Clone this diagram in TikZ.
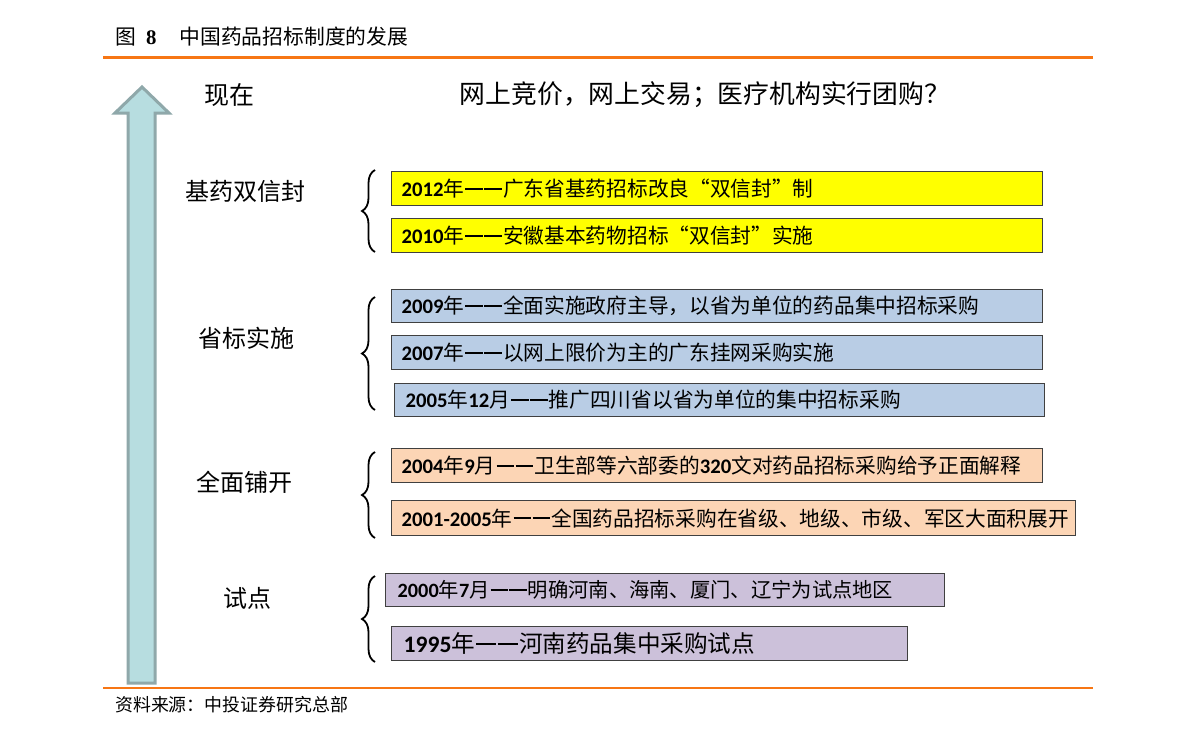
\documentclass[tikz,border=0pt]{standalone}
\usepackage{fontspec}
\setmainfont{Carlito}
\newfontfamily\cjk{Noto Sans CJK SC}
\newfontfamily\lat{Carlito}
\newfontfamily\serifx{Liberation Serif}
\usetikzlibrary{decorations.pathreplacing}
\definecolor{orangeline}{RGB}{247,118,20}
\definecolor{arrowfill}{RGB}{183,221,224}
\definecolor{arrowline}{RGB}{143,168,170}
\definecolor{yel}{RGB}{255,255,0}
\definecolor{blu}{RGB}{185,205,229}
\definecolor{ora}{RGB}{252,213,181}
\definecolor{pur}{RGB}{204,193,218}
\definecolor{boxline}{RGB}{64,64,64}
\newcommand{\bn}[1]{{\lat\bfseries #1}}
\newcommand{\dd}{\hspace{1pt}\rule[0.33em]{0.86em}{0.1em}\hspace{0.06em}\rule[0.33em]{0.86em}{0.1em}\hspace{1pt}}
\tikzset{
  evt/.style={draw=boxline, line width=1.3pt, anchor=north west, inner xsep=10pt, inner ysep=0pt,
     align=left, font=\cjk\fontsize{20.7}{24}\selectfont},
  lab/.style={font=\cjk\fontsize{24}{28}\selectfont, inner sep=0pt},
  bracestyle/.style={draw=black, line width=1.8pt, decorate, decoration={brace, amplitude=13pt}},
  rule/.style={draw=orangeline},
}
\begin{document}
\begin{tikzpicture}[x=1pt,y=-1pt]
\useasboundingbox (0,0) rectangle (1191,736);
\fill[white] (0,0) rectangle (1191,736);
% title
\node[anchor=west, inner sep=0pt, font=\cjk\fontsize{20.8}{24}\selectfont] (title) at (115,37)
  {图\hspace{10pt}{\serifx\bfseries 8}\hspace{23pt}中国药品招标制度的发展};
\coordinate (r1a) at (103,57); \coordinate (r1b) at (1093,57);
\draw[rule, line width=3pt] (r1a) -- (r1b);
\coordinate (r2a) at (103,688); \coordinate (r2b) at (1093,688);
\draw[rule, line width=2.5pt] (r2a) -- (r2b);
\node[anchor=west, inner sep=0pt, font=\cjk\fontsize{17.9}{20}\selectfont] (src) at (115,705) {资料来源：中投证券研究总部};
% big arrow
\draw[draw=arrowline, fill=arrowfill, line width=3pt, line join=miter]
  (128,683) -- (128,113) -- (115,113) -- (142,87) -- (169,113) -- (155,113) -- (155,683) -- cycle;
% labels
\node[lab, font=\cjk\fontsize{25}{28}\selectfont] (now) at (229,95) {现在};
\node[lab, font=\cjk\fontsize{25.8}{28}\selectfont] (future) at (705,95) {网上竞价，网上交易；医疗机构实行团购？};
\node[lab] (l1) at (245,191) {基药双信封};
\node[lab] (l2) at (246,338) {省标实施};
\node[lab] (l3) at (244,482) {全面铺开};
\node[lab] (l4) at (247,598) {试点};
% braces
\coordinate (b1t) at (375,170); \coordinate (b1b) at (375,252);
\coordinate (b2t) at (375,297); \coordinate (b2b) at (375,410);
\coordinate (b3t) at (375,452); \coordinate (b3b) at (375,538);
\coordinate (b4t) at (375,576); \coordinate (b4b) at (375,662);
\draw[bracestyle] (b1b) -- (b1t);
\draw[bracestyle] (b2b) -- (b2t);
\draw[bracestyle] (b3b) -- (b3t);
\draw[bracestyle] (b4b) -- (b4t);
% boxes
\node[evt, fill=yel, minimum height=34pt, text width=631pt] (y1) at (391,171)
  {\bn{2012}年\dd 广东省基药招标改良“双信封”制};
\node[evt, fill=yel, minimum height=34pt, text width=631pt] (y2) at (391,218)
  {\bn{2010}年\dd 安徽基本药物招标“双信封”实施};
\node[evt, fill=blu, minimum height=33pt, text width=631pt] (bl1) at (391,289)
  {\bn{2009}年\dd 全面实施政府主导，以省为单位的药品集中招标采购};
\node[evt, fill=blu, minimum height=34pt, text width=631pt] (bl2) at (391,335)
  {\bn{2007}年\dd 以网上限价为主的广东挂网采购实施};
\node[evt, fill=blu, minimum height=33pt, text width=628pt, inner xsep=11pt] (bl3) at (394,383)
  {\bn{2005}年\bn{12}月\dd 推广四川省以省为单位的集中招标采购};
\node[evt, fill=ora, minimum height=34pt, text width=631pt] (o1) at (391,448)
  {\bn{2004}年\bn{9}月\dd 卫生部等六部委的\bn{320}文对药品招标采购给予正面解释};
\node[evt, fill=ora, minimum height=35pt, text width=664pt] (o2) at (391,500)
  {\bn{2001-2005}年\dd 全国药品招标采购在省级、地级、市级、军区大面积展开};
\node[evt, fill=pur, minimum height=33pt, text width=535pt, inner xsep=12pt, font=\cjk\fontsize{20.3}{24}\selectfont] (p1) at (385,573)
  {\bn{2000}年\bn{7}月\dd 明确河南、海南、厦门、辽宁为试点地区};
\node[evt, fill=pur, minimum height=34pt, text width=492pt, inner xsep=12pt, font=\cjk\fontsize{23.6}{26}\selectfont] (p2) at (391,626)
  {\bn{1995}年\dd 河南药品集中采购试点};
\end{tikzpicture}
\end{document}
